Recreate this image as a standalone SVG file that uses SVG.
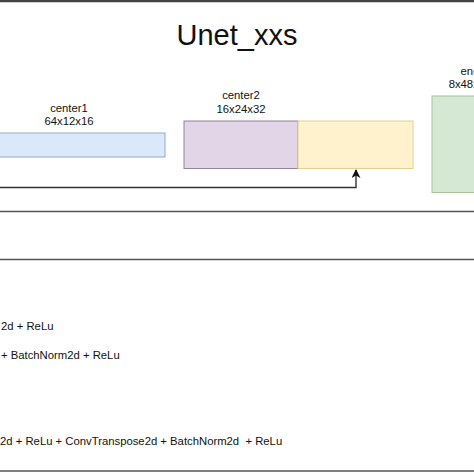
<svg xmlns="http://www.w3.org/2000/svg" width="474" height="474" viewBox="0 0 474 474">
  <style>
    text { font-family: "Liberation Sans", Arial, sans-serif; fill: #111; }
    .lbl { font-size: 11.3px; text-anchor: middle; }
    .leg { font-size: 11.3px; white-space: pre; }
    .rule { stroke: #555; stroke-width: 1.5; fill: none; }
    .edge { stroke: #333; stroke-width: 1.4; fill: none; }
  </style>
  <defs>
    <marker id="arr" viewBox="0 0 10 10" refX="9" refY="5" markerWidth="9" markerHeight="9" orient="auto" markerUnits="userSpaceOnUse">
      <path d="M0,0 L10,5 L0,10 L3,5 Z" fill="#111"/>
    </marker>
  </defs>
  <rect x="0" y="0" width="474" height="474" fill="#fff"/>
  <line x1="0" y1="1" x2="474" y2="1" stroke="#444" stroke-width="2.5"/>
  <text x="237" y="45" style="font-size:29px" text-anchor="middle">Unet_xxs</text>

  <g id="center1">
    <rect x="-10" y="133" width="175" height="24" fill="#dae8fc" stroke="#93a9c9" stroke-width="1"/>
    <text class="lbl" x="69" y="112">center1</text>
    <text class="lbl" x="69" y="125">64x12x16</text>
  </g>
  <g id="center2">
    <rect x="184" y="121" width="114" height="47.5" fill="#e1d5e7" stroke="#8f8599" stroke-width="1"/>
    <rect x="298" y="121" width="115" height="47.5" fill="#fff2cc" stroke="#e2cf92" stroke-width="1"/>
    <text class="lbl" x="241" y="99">center2</text>
    <text class="lbl" x="241" y="113">16x24x32</text>
  </g>
  <g id="end">
    <rect x="432" y="96" width="76" height="96.5" fill="#d5e8d4" stroke="#a8c29a" stroke-width="1"/>
    <text class="lbl" x="470" y="75">end</text>
    <text class="lbl" x="470" y="88">8x48x64</text>
  </g>

  <g id="connectors">
    <path class="edge" d="M0,187.5 L356,187.5 L356,170" marker-end="url(#arr)"/>
  </g>

  <g id="rules">
    <line class="rule" x1="0" y1="211.5" x2="474" y2="211.5"/>
    <line class="rule" x1="0" y1="259.5" x2="474" y2="259.5"/>
    <line class="rule" x1="0" y1="471" x2="474" y2="471"/>
  </g>

  <g id="legend">
    <text class="leg" x="1" y="330">2d + ReLu</text>
    <text class="leg" x="1" y="359">+ BatchNorm2d + ReLu</text>
    <text class="leg" x="0" y="445">2d + ReLu + ConvTranspose2d + BatchNorm2d  + ReLu</text>
  </g>
</svg>
